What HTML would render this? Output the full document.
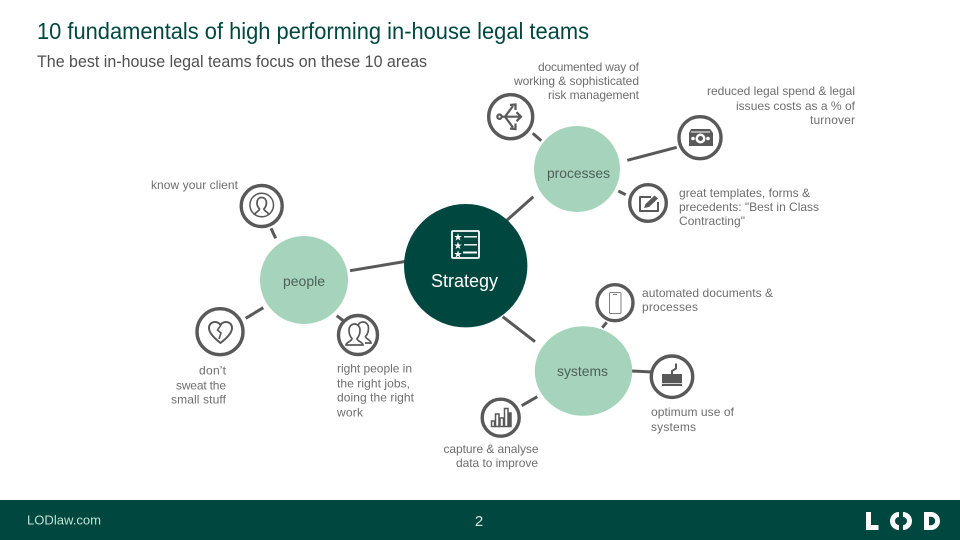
<!DOCTYPE html>
<html><head><meta charset="utf-8"><style>
html,body{margin:0;padding:0;background:#fff}
svg{display:block}
text{font-family:"Liberation Sans",sans-serif}
.l{font-size:12px;fill:#6e6e6e}
.c{fill:none;stroke:#595959;stroke-width:3.4}
.k{fill:none;stroke:#595959;stroke-width:3}
.i{fill:none;stroke:#595959;stroke-width:1.5}
.f{fill:#595959;stroke:none}
</style></head><body>
<svg width="960" height="540" viewBox="0 0 960 540" xmlns="http://www.w3.org/2000/svg">
<rect width="960" height="540" fill="#fff"/>
<text x="37" y="39" font-size="23.5" fill="#00483f" textLength="552" lengthAdjust="spacingAndGlyphs">10 fundamentals of high performing in-house legal teams</text>
<text x="37" y="67" font-size="16.5" fill="#505050" textLength="390" lengthAdjust="spacingAndGlyphs">The best in-house legal teams focus on these 10 areas</text>

<g class="k">
<line x1="532.7" y1="133.3" x2="541.3" y2="140.7"/>
<line x1="627.3" y1="160.3" x2="676.7" y2="147.3"/>
<line x1="618.3" y1="191" x2="625.7" y2="194.7"/>
<line x1="506" y1="221" x2="533.3" y2="196.7"/>
<line x1="271" y1="228.3" x2="275.7" y2="238.3"/>
<line x1="245.7" y1="318.3" x2="263.3" y2="307.7"/>
<line x1="336.7" y1="315.7" x2="343.3" y2="320.7"/>
<line x1="350" y1="270.7" x2="405" y2="261.5"/>
<line x1="502.7" y1="316.7" x2="535" y2="341.7"/>
<line x1="602.3" y1="327.7" x2="606.7" y2="322.3"/>
<line x1="631.7" y1="371" x2="652" y2="372"/>
<line x1="521.7" y1="405.7" x2="537.3" y2="396.7"/>
</g>

<circle cx="577" cy="169" r="43" fill="#a5d3bb"/>
<circle cx="304" cy="280" r="44" fill="#a5d3bb"/>
<ellipse cx="583.5" cy="371" rx="48.7" ry="44.8" fill="#a5d3bb"/>
<circle cx="465.7" cy="265.7" r="61.7" fill="#00483f"/>

<circle class="c" cx="510.7" cy="116.7" r="22"/>
<circle class="c" cx="700" cy="137.7" r="21"/>
<circle class="c" cx="648" cy="203" r="18.3"/>
<circle class="c" cx="261.7" cy="206" r="20.5"/>
<circle class="c" cx="220" cy="331.7" r="23"/>
<circle class="c" cx="358" cy="335" r="19.5"/>
<circle class="c" cx="615" cy="302.7" r="18"/>
<circle class="c" cx="672" cy="376.7" r="20.7"/>
<circle class="c" cx="500.7" cy="417.7" r="18.5"/>

<!-- doc icon -->
<g fill="none" stroke="#595959" stroke-width="2.2">
<circle cx="499.500" cy="116.700" r="2.200"/>
<path d="M502 116.700H521M516.500 112.200L521 116.700L516.500 121.200M505 116.700L513 106M510 105L515.500 104.500L515.500 110M505 116.700L513 127.500M510 128.500L515.500 129L515.500 123.500"/>
</g>
<!-- money icon -->
<path class="f" d="M691 129h19l3 4v13h-24v-13z"/>
<circle cx="700.500" cy="138.500" r="5" fill="#fff"/>
<circle cx="700.500" cy="138.500" r="2.500" fill="#595959"/>
<circle cx="693" cy="138.500" r="1.800" fill="#fff"/><circle cx="708" cy="138.500" r="1.800" fill="#fff"/>
<rect x="691" y="131.500" width="19" height="1" fill="#fff"/>
<!-- edit icon -->
<path fill="none" stroke="#595959" stroke-width="2" stroke-linejoin="round" d="M651 197h-11v14h18v-9"/>
<path class="f" d="M644 208l1.500-4 9-8.500 3.500 3-9 8.500z"/>
<!-- client icon -->
<circle class="i" cx="261.700" cy="205" r="11.800"/>
<path fill="none" stroke="#595959" stroke-width="1.800" d="M254.500 215c.5-3 4.500-3.500 5-6-1.800-2-2.500-4-2.500-6 0-3.500 2-5.500 4.700-5.500s4.700 2 4.700 5.500c0 2-.7 4-2.500 6 .5 2.500 4.500 3 5 6"/>
<!-- heart icon -->
<path fill="none" stroke="#595959" stroke-width="2" stroke-linejoin="round" d="M220.500 343C214 338 209 333 209 328C209 324 212 322 215 322C217.500 322 219.500 323.500 220.500 325C221.500 323.500 223.500 322 226 322C229 322 232 324 232 328C232 333 227 338 220.500 343Z"/>
<path fill="none" stroke="#595959" stroke-width="1.600" d="M221 325l-3.500 5 3.500 3-2 6"/>
<!-- team icon -->
<path fill="none" stroke="#595959" stroke-width="1.700" d="M346 345c0-3 6-3.500 6-6.500-2-2-3-5-3-8.500 0-3.500 2.500-6 5.500-6s5.500 2.500 5.500 6c0 3.500-1 6.500-3 8.500 0 3 6 3.500 6 6.500z"/>
<path fill="none" stroke="#595959" stroke-width="1.700" d="M358 325c1.200-2 3-3 5-3 3 0 5.500 2.500 5.500 6 0 3.500-1 6.500-3 8.500 0 2.500 5 3 5.500 6.500h-6"/>
<!-- phone icon -->
<rect x="609.500" y="292.500" width="11.500" height="21" rx="1" fill="none" stroke="#7f7f7f" stroke-width="1"/>
<line x1="613" y1="294.500" x2="617" y2="294.500" stroke="#7f7f7f"/>
<!-- keyboard icon -->
<path class="f" d="M662 374h20v12h-20z"/>
<path fill="none" stroke="#fff" stroke-width=".8" d="M662 383.500h20"/>
<path fill="none" stroke="#595959" stroke-width="2" d="M672 374v-3l4-2.500v-5"/>
<!-- chart icon -->
<g fill="none" stroke="#595959" stroke-width="1.500">
<rect x="491.500" y="421" width="3" height="5.500"/>
<rect x="495.500" y="414" width="3.500" height="12.500"/>
<rect x="500" y="418" width="3.500" height="8.500"/>
<rect x="504.500" y="408.500" width="3.500" height="18"/>
<rect x="509" y="413" width="2" height="13.500" fill="#595959"/>
</g>
<!-- strategy icon -->
<rect x="452" y="231" width="27" height="27" rx="1" fill="none" stroke="#fff" stroke-width="1.800"/>
<g fill="#fff" font-size="10"><text x="453.500" y="240.500">★</text><text x="453.500" y="249">★</text><text x="453.500" y="257.500">★</text></g>
<path fill="none" stroke="#fff" stroke-width="1.300" d="M464 236.800h13M464 244.800h13"/>
<path fill="none" stroke="#fff" stroke-width="2" d="M463 252.500h14"/>

<text x="431" y="287" font-size="18" fill="#fff" textLength="67" lengthAdjust="spacingAndGlyphs">Strategy</text>
<text x="547" y="178" font-size="14" fill="#4f6059" textLength="63" lengthAdjust="spacingAndGlyphs">processes</text>
<text x="283" y="286" font-size="14" fill="#4f6059" textLength="42" lengthAdjust="spacingAndGlyphs">people</text>
<text x="557" y="376" font-size="14" fill="#4f6059" textLength="51" lengthAdjust="spacingAndGlyphs">systems</text>

<g class="l">
<text x="639" y="71" text-anchor="end" textLength="101">documented way of</text>
<text x="639" y="85" text-anchor="end" textLength="125">working &amp; sophisticated</text>
<text x="639" y="99" text-anchor="end" textLength="91">risk management</text>
<text x="855" y="95" text-anchor="end" textLength="148">reduced legal spend &amp; legal</text>
<text x="855" y="110" text-anchor="end" textLength="119">issues costs as a % of</text>
<text x="855" y="124" text-anchor="end" textLength="45">turnover</text>
<text x="679" y="197" textLength="131">great templates, forms &amp;</text>
<text x="679" y="211" textLength="140">precedents: "Best in Class</text>
<text x="679" y="225" textLength="66">Contracting"</text>
<text x="151" y="189" textLength="87">know your client</text>
<text x="642" y="297" textLength="131">automated documents &amp;</text>
<text x="642" y="311" textLength="56">processes</text>
<text x="226" y="374.500" text-anchor="end" textLength="27">don't</text>
<text x="226" y="389.500" text-anchor="end" textLength="50">sweat the</text>
<text x="226" y="403.500" text-anchor="end" textLength="55">small stuff</text>
<text x="337" y="372.500" textLength="75">right people in</text>
<text x="337" y="387.500" textLength="73">the right jobs,</text>
<text x="337" y="401.500" textLength="77">doing the right</text>
<text x="337" y="416.500" textLength="26">work</text>
<text x="651" y="416" textLength="83">optimum use of</text>
<text x="651" y="431" textLength="45">systems</text>
<text x="491" y="453" text-anchor="middle" textLength="95">capture &amp; analyse</text>
<text x="497" y="467" text-anchor="middle" textLength="82">data to improve</text>
</g>

<rect x="0" y="500" width="960" height="40" fill="#00483f"/>
<text x="27" y="524.500" font-size="12.500" fill="#c4dfd4" textLength="74" lengthAdjust="spacingAndGlyphs">LODlaw.com</text>
<text x="479" y="526" font-size="15" fill="#d7e4df" text-anchor="middle">2</text>
<!-- LOD logo -->
<path fill="#fff" d="M866 512h5v13h7.500v5H866z"/>
<path fill="#fff" d="M899 512a9 9 0 0 0 0 18v-5a4 4 0 0 1 0-8zM903 512v5a4 4 0 0 1 0 8v5a9 9 0 0 0 0-18z"/>
<path fill="#fff" fill-rule="evenodd" d="M924 512h7a9 9 0 0 1 0 18h-7zm5 4.800v8.400h2a4.200 4.200 0 0 0 0-8.400z"/>
</svg>
</body></html>
